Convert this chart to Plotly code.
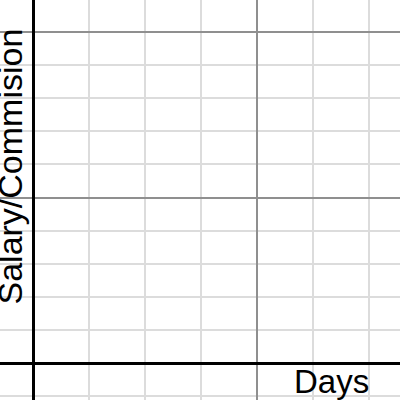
import plotly.graph_objects as go

# Data (the graph is an empty grid: no plotted points)
days = []
salary = []

x_label = "Days"
y_label = "Salary/Commision"

# axis ranges (in grid units)
x_range = [-33 / 56, 367 / 56]
y_range = [-37 / 33.1, 363 / 33.1]

fig = go.Figure()
fig.add_trace(go.Scatter(x=days, y=salary, mode="lines", line=dict(color="black")))

axis_common = dict(
    showticklabels=False,
    ticks="",
    showline=False,
    zeroline=True,
    zerolinecolor="black",
    zerolinewidth=3,
    showgrid=True,
    gridcolor="#8f8f8f",
    gridwidth=1.5,
    fixedrange=True,
)

fig.update_layout(
    width=400,
    height=400,
    margin=dict(l=0, r=0, t=0, b=0),
    paper_bgcolor="white",
    plot_bgcolor="white",
    showlegend=False,
    xaxis=dict(range=x_range, dtick=4, tick0=0,
               minor=dict(dtick=1, tick0=0, showgrid=True, gridcolor="#dcdcdc", gridwidth=1.5),
               **axis_common),
    yaxis=dict(range=y_range, dtick=5, tick0=0,
               minor=dict(dtick=1, tick0=0, showgrid=True, gridcolor="#dcdcdc", gridwidth=1.5),
               **axis_common),
    font=dict(family="Liberation Sans, Arial, sans-serif", color="black"),
    annotations=[
        dict(text=y_label, textangle=-90, xref="paper", yref="paper",
             x=9 / 400, y=1 - 166.5 / 400, xanchor="center", yanchor="middle",
             showarrow=False, font=dict(size=34, color="black")),
        dict(text=x_label, xref="paper", yref="paper",
             x=331.5 / 400, y=1 - 381 / 400, xanchor="center", yanchor="middle",
             showarrow=False, font=dict(size=33, color="black")),
    ],
)

fig.write_html("out.html", config={"displayModeBar": False},
               post_script="document.body.style.margin='0';document.body.style.overflow='hidden';")
